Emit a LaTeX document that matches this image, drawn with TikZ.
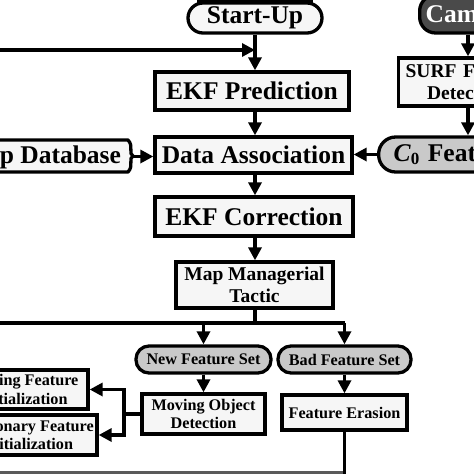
\documentclass[tikz,border=0pt]{standalone}
\usepackage{fontspec}
\setmainfont{Liberation Serif}
\usetikzlibrary{arrows.meta}
\definecolor{boxfill}{HTML}{F6F6F6}
\definecolor{pill}{HTML}{C9C9C9}
\definecolor{cam}{HTML}{4A4A4A}
\definecolor{band}{HTML}{5A5A5A}
\begin{document}
\begin{tikzpicture}[x=1pt,y=-1pt,
  bx/.style={draw, line width=3.3pt, fill=boxfill, inner sep=0pt, align=center, font=\bfseries\fontsize{25.5}{28}\selectfont},
  mid/.style={font=\bfseries\fontsize{19.5}{22}\selectfont},
  sml/.style={font=\bfseries\fontsize{16.2}{18.5}\selectfont},
  pillbox/.style={bx, fill=pill, rounded corners=13pt},
  ln/.style={line width=3.2pt},
  conn/.style={line width=3.2pt, -{Triangle[length=13pt,width=13pt]}}]
\useasboundingbox (0,0) rectangle (474,474);
\clip (0,0) rectangle (474,474);
% cut-off shapes at top and bottom edges
\fill (197,-4) rectangle (313,2.5);
\fill[band] (0,470.5) rectangle (345,478);
% main column
\node[bx, minimum width=134pt, minimum height=30pt, rounded corners=15pt] (start) at (255,18) {Start-Up};
\node[bx, minimum width=194pt, minimum height=38pt] (ekfp) at (252,91) {EKF Prediction};
\node[bx, minimum width=197pt, minimum height=36pt] (da) at (253.5,155) {Data Association};
\node[bx, minimum width=198pt, minimum height=39pt] (ekfc) at (254,216.5) {EKF Correction};
\node[bx, mid, minimum width=157pt, minimum height=46pt] (mmt) at (254.5,285) {Map Managerial\\Tactic};
\node[pillbox, sml, minimum width=135pt, minimum height=27pt] (nfs) at (203.5,359.5) {New Feature Set};
\node[pillbox, sml, minimum width=133pt, minimum height=27pt] (bfs) at (344.5,359.5) {Bad Feature Set};
\node[bx, sml, minimum width=123pt, minimum height=40pt] (mod) at (203.5,414) {Moving Object\\Detection};
\node[bx, sml, minimum width=125pt, minimum height=35pt] (fe) at (344.5,412.5) {Feature Erasion};
\node[bx, sml, minimum width=130pt, minimum height=39pt] (init1) at (23,389.5) {Moving Feature\\Initialization};
\node[bx, sml, minimum width=137pt, minimum height=40pt] (init2) at (28.5,435) {Stationary Feature\\Initialization};
% map database (stored data shape)
\fill[boxfill] (-40,140) -- (128,140) .. controls (134,146) and (128,154) .. (133,156)
  .. controls (128,158) and (134,166) .. (128,172) -- (-40,172) -- cycle;
\draw[line width=3.3pt, line join=round] (-40,140) -- (128,140) .. controls (134,146) and (128,154) .. (133,156)
  .. controls (128,158) and (134,166) .. (128,172) -- (-40,172);
\coordinate (mdx) at (42,0);
\node[font=\bfseries\fontsize{25.5}{28}\selectfont, inner sep=0pt, anchor=base] (mapdb) at (da.base -| mdx) {Map Database};
\coordinate (mapdbE) at (133,156.5);
% right column
\node[bx, fill=cam, text=white, anchor=west, minimum width=200pt, minimum height=38pt,
  rounded corners=16pt, inner xsep=6pt, text width=188pt, align=left] (cam) at (418,14) {Camera};
\node[bx, mid, anchor=west, minimum width=136pt, minimum height=48pt, text width=136pt] (surf) at (397,82) {SURF Feature\\Detection};
\node[pillbox, anchor=west, minimum width=200pt, minimum height=35pt, rounded corners=17pt,
  inner xsep=15pt, text width=170pt, align=left] (c0) at (377,154.5)
  {\textit{C}\raisebox{-0.3ex}{\fontsize{17}{17}\selectfont 0} Features};
\coordinate (cx) at (468,0);
% connectors
\coordinate (fbL) at (0,50);
\draw[conn] (start.south) -- (start.south |- ekfp.north);
\draw[conn] (fbL) -- (fbL -| start.south);
\draw[conn] (ekfp.south -| start.south) -- (start.south |- da.north);
\draw[conn] (mapdbE) -- (mapdbE -| da.west);
\draw[conn] (c0.west) -- (c0.west -| da.east);
\draw[conn] (da.south -| start.south) -- (start.south |- ekfc.north);
\draw[conn] (ekfc.south -| start.south) -- (start.south |- mmt.north);
\coordinate (brL) at (0,323);
\draw[ln] (mmt.south -| start.south) -- (start.south |- brL);
\draw[ln] (brL) -- (brL -| bfs.north);
\draw[conn] (nfs.north |- brL) -- (nfs.north);
\draw[conn] (bfs.north |- brL) -- (bfs.north);
\draw[conn] (nfs.south) -- (mod.north);
\draw[conn] (bfs.south) -- (fe.north);
\coordinate (jn) at (124,414);
\coordinate (feB) at (344.5,476);
\draw[ln] (fe.south) -- (feB);
\draw[ln] (mod.west) -- (jn);
\draw[conn] (jn) |- (init1.east);
\draw[conn] (jn) |- (init2.east);
\draw[conn] (cam.south -| cx) -- (surf.north -| cx);
\draw[conn] (surf.south -| cx) -- (c0.north -| cx);
\end{tikzpicture}
\end{document}
